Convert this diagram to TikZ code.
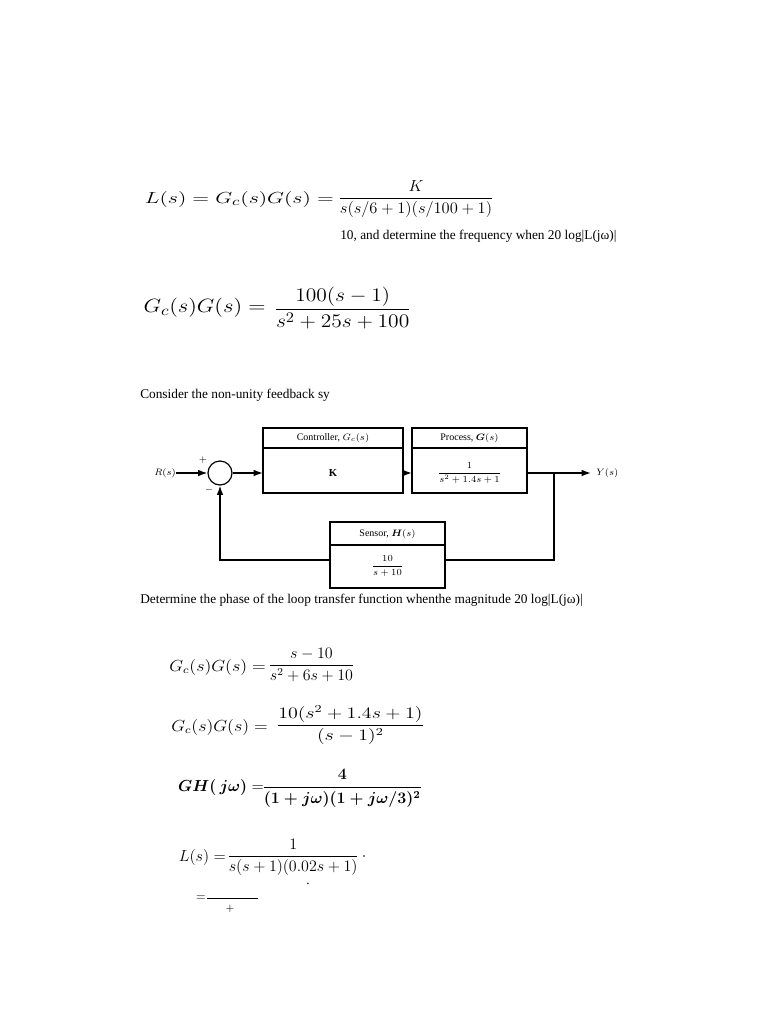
\documentclass[tikz,border=0pt]{standalone}
\usepackage{amsmath}
\usepackage{graphicx}
\usepackage{fontspec}
\setmainfont{Liberation Serif}
\usetikzlibrary{arrows.meta}
\tikzset{
  txt/.style={anchor=west,inner sep=0pt,font=\fontsize{10}{12}\selectfont},
  eq/.style={inner sep=0pt},
  blk/.style={draw,line width=0.9pt},
  sig/.style={line width=1.1pt},
  arr/.style={sig,-{Latex[length=7pt,width=5pt]}},
  lbl/.style={inner sep=0pt,font=\fontsize{7.5}{9}\selectfont},
}
\begin{document}
\begin{tikzpicture}[x=0.75pt,y=-0.75pt]
\useasboundingbox (0,0) rectangle (768,1024);
% eq 1
\node[eq,anchor=east,font=\fontsize{13}{15}\selectfont] (e1l) at (334,199) {\scalebox{1.37}[1]{$L(s) = G_c(s)G(s) =$}};
\node[eq,anchor=west,font=\fontsize{13}{15}\selectfont] (e1r) at (338,199) {\scalebox{1.03}[1]{$\dfrac{K}{s(s/6+1)(s/100+1)}$}};
\node[txt] (t1) at (340,236) {10, and determine the frequency when 20 log|L(j\symbol{"03C9})|};
% eq 2
\node[eq,anchor=east,font=\fontsize{15}{18}\selectfont] (e2l) at (266,308) {\scalebox{1.18}[1]{$G_c(s)G(s) =$}};
\node[eq,anchor=west,font=\fontsize{15}{18}\selectfont] (e2r) at (274,308) {\scalebox{1.12}[1]{$\dfrac{100(s-1)}{s^2+25s+100}$}};
\node[txt] (t2) at (140,395) {Consider the non-unity feedback sy};
% block diagram
\node[lbl,anchor=east] (R) at (176,473) {$R(s)$};
\node[draw,circle,minimum size=24pt*0.75,inner sep=0pt,line width=0.9pt] (sum) at (220,473) {};
\node[blk,minimum width=140*0.75pt,minimum height=65*0.75pt,inner sep=0pt] (ctl) at (333,460.5) {};
\draw[line width=0.9pt] (263,448) -- (403,448);
\node[lbl] (ctlh) at (333,438) {Controller, $G_c(s)$};
\node[lbl,font=\fontsize{8}{10}\selectfont\bfseries] (ctlk) at (333,473) {K};
\node[blk,minimum width=115*0.75pt,minimum height=65*0.75pt,inner sep=0pt] (prc) at (469.5,460.5) {};
\draw[line width=0.9pt] (412,448) -- (527,448);
\node[lbl] (prch) at (469.5,438) {Process, $\boldsymbol{G}(s)$};
\node[lbl,font=\fontsize{7}{9}\selectfont] (prcf) at (469.5,473) {$\dfrac{1}{s^2+1.4s+1}$};
\node[blk,minimum width=115*0.75pt,minimum height=66*0.75pt,inner sep=0pt] (sen) at (387.5,555) {};
\draw[line width=0.9pt] (330,545) -- (445,545);
\node[lbl] (senh) at (387.5,534) {Sensor, $\boldsymbol{H}(s)$};
\node[lbl,font=\fontsize{7}{9}\selectfont] (senf) at (387.5,566) {$\dfrac{10}{s+10}$};
\node[lbl,anchor=west] (Y) at (596,473) {$Y(s)$};
\coordinate (br) at (554,473);
\coordinate (out) at (591,473);
\draw[arr] (R) -- (sum);
\draw[arr] (sum) -- (263,473);
\draw[arr] (403,473) -- (412,473);
\draw[arr] (527,473) -- (out);
\draw[sig] (br) |- (445,560);
\draw[arr] (330,560) -| (sum.south);
\node[lbl] (plus) at (203,460) {$+$};
\node[lbl] (minus) at (209,490) {$-$};
% text
\node[txt] (t3) at (140,600) {Determine the phase of the loop transfer function whenthe magnitude 20 log|L(j\symbol{"03C9})|};
% eq 3
\node[eq,anchor=east,font=\fontsize{12}{14}\selectfont] (e3l) at (266,667) {\scalebox{1.12}[1]{$G_c(s)G(s) =$}};
\node[eq,anchor=west,font=\fontsize{12}{14}\selectfont] (e3r) at (268,665) {$\dfrac{s-10}{s^2+6s+10}$};
% eq 4
\node[eq,anchor=east,font=\fontsize{12}{14}\selectfont] (e4l) at (268,727) {\scalebox{1.12}[1]{$G_c(s)G(s) =$}};
\node[eq,anchor=west,font=\fontsize{12}{14}\selectfont] (e4r) at (276,725) {\scalebox{1.25}[1]{$\dfrac{10(s^2+1.4s+1)}{(s-1)^2}$}};
% eq 5
\node[eq,anchor=east,font=\fontsize{12}{14}\selectfont] (e5l) at (264,787) {$\boldsymbol{GH(\,j\omega)} =$};
\node[eq,anchor=west,font=\fontsize{12}{14}\selectfont] (e5r) at (262,788) {$\boldsymbol{\dfrac{4}{(1+j\omega)(1+j\omega/3)^2}}$};
% eq 6
\node[eq,anchor=east,font=\fontsize{12}{14}\selectfont] (e6l) at (226,857) {$L(s) =$};
\node[eq,anchor=west,font=\fontsize{12}{14}\selectfont] (e6r) at (227,857) {$\dfrac{1}{s(s+1)(0.02s+1)}\,\cdot$};
\node[eq] (dot) at (308,884) {.};
% eq 7
\node[eq,font=\fontsize{9}{10}\selectfont] (e7eq) at (201,898) {$=$};
\draw[line width=0.5pt] (207,898) -- (258,898);
\node[eq,font=\fontsize{8}{10}\selectfont] (e7p) at (230,909) {$+$};
\end{tikzpicture}
\end{document}
